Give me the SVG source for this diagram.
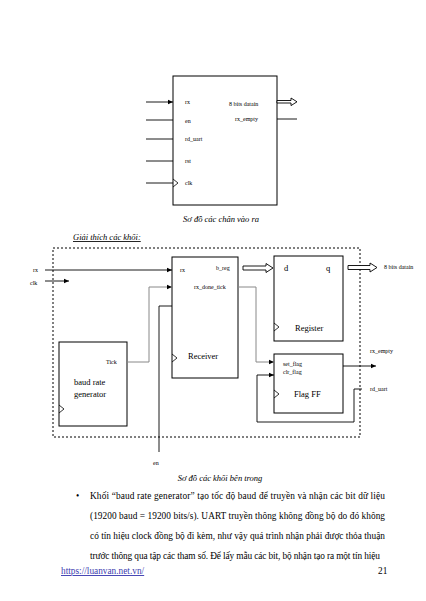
<svg xmlns="http://www.w3.org/2000/svg" width="426" height="601" viewBox="0 0 426 601" font-family="'Liberation Serif','Times New Roman',serif">
<style>
text{font-family:"Liberation Serif","Times New Roman",serif;fill:#000}
.box{fill:#fff;stroke:#000;stroke-width:1}
.ln{fill:none;stroke:#000;stroke-width:0.9}
.gl{fill:none;stroke:#888;stroke-width:1}
.clk{fill:none;stroke:#000;stroke-width:0.8}
.bus{fill:#fff;stroke:#000;stroke-width:0.9}
.s{font-size:6px}
.m{font-size:8.5px}
.cap{font-size:8.5px;font-style:italic}
.body{font-size:9.3px}
.link{fill:#3b3bb0}
</style>
<defs>
<marker id="ah" markerWidth="6" markerHeight="6" refX="5" refY="3" orient="auto" markerUnits="userSpaceOnUse">
<path d="M0,0.8 L5,3 L0,5.2 Z" fill="#000"/>
</marker>
</defs>
<rect width="426" height="601" fill="#fff"/>

<g id="top-block">
<rect class="box" x="173" y="76" width="104" height="129"/>
<text class="s" x="185" y="104">rx</text>
<text class="s" x="185" y="123">en</text>
<text class="s" x="185" y="141">rd_uart</text>
<text class="s" x="185" y="163">rst</text>
<text class="s" x="185" y="185">clk</text>
<text class="s" x="229" y="106">8 bits datain</text>
<text class="s" x="235" y="121">rx_empty</text>
<path class="clk" d="M173,179 L178,183 L173,187"/>
</g>
<g id="top-connectors">
<line class="ln" x1="146" y1="102" x2="173" y2="102" marker-end="url(#ah)"/>
<line class="ln" x1="146" y1="120" x2="173" y2="120"/>
<line class="ln" x1="146" y1="139" x2="173" y2="139"/>
<line class="ln" x1="146" y1="161" x2="173" y2="161"/>
<line class="ln" x1="146" y1="183" x2="173" y2="183"/>
<path class="bus" d="M277,100.5 L291,100.5 L291,98 L297,101.8 L291,105.6 L291,103 L277,103 Z"/>
<line class="ln" x1="277" y1="119" x2="297" y2="119" stroke="#777"/>
</g>
<text class="cap" x="221" y="222" text-anchor="middle">Sơ đồ các chân vào ra</text>
<text class="cap" x="73" y="240" text-decoration="underline">Giải thích các khối:</text>

<rect x="53" y="248" width="307" height="189" fill="none" stroke="#000" stroke-width="1" stroke-dasharray="2,2"/>

<g id="receiver">
<rect class="box" x="172" y="257" width="66" height="121"/>
<text class="s" x="180" y="272">rx</text>
<text class="s" x="216" y="270">b_reg</text>
<text class="s" x="194" y="289">rx_done_tick</text>
<text class="m" x="188" y="359">Receiver</text>
<path class="clk" d="M172,354 L177,358 L172,362"/>
</g>

<g id="register">
<rect class="box" x="274" y="256" width="69" height="85"/>
<text class="m" x="284" y="271">d</text>
<text class="m" x="326" y="271">q</text>
<text class="m" x="295" y="331">Register</text>
<path class="clk" d="M274,323 L279,327 L274,331"/>
</g>

<g id="flag-ff">
<rect class="box" x="274" y="354" width="69" height="59"/>
<text class="s" x="283" y="366">set_flag</text>
<text class="s" x="283" y="374">clr_flag</text>
<text class="m" x="294" y="397">Flag FF</text>
<path class="clk" d="M274,390 L279,394 L274,398"/>
</g>

<g id="baud-rate-generator">
<rect class="box" x="59" y="342" width="68" height="84"/>
<text class="s" x="106" y="364">Tick</text>
<text class="m" x="74" y="385">baud rate</text>
<text class="m" x="74" y="397">generator</text>
<path class="clk" d="M59,405 L64,409 L59,413"/>
</g>

<g id="labels">
<text class="s" x="33" y="272">rx</text>
<text class="s" x="30" y="285">clk</text>
<text class="s" x="153" y="465">en</text>
<text class="s" x="384" y="269">8 bits datain</text>
<text class="s" x="370" y="353">rx_empty</text>
<text class="s" x="370" y="391">rd_uart</text>
</g>

<g id="connectors">
<line class="ln" x1="45" y1="270" x2="172" y2="270" stroke="#555" marker-end="url(#ah)"/>
<line class="ln" x1="45" y1="281" x2="69" y2="281" stroke="#555" marker-end="url(#ah)"/>
<polyline class="gl" points="127,362 149,362 149,287 172,287" marker-end="url(#ah)"/>
<polyline class="ln" points="159,452 159,306 172,306"/>
<path class="bus" d="M243,266 L266,266 L266,263.5 L273,268 L266,272.5 L266,270 L243,270 Z"/>
<polyline class="gl" points="238,287 256,287 256,362 274,362" marker-end="url(#ah)"/>
<polyline class="ln" points="362,389 354,389 354,422 257,422 257,375 274,375" marker-end="url(#ah)"/>
<line class="ln" x1="343" y1="366" x2="376" y2="366" stroke="#555" marker-end="url(#ah)"/>
<path class="bus" d="M348,265.5 L370,265.5 L370,263 L377,267.5 L370,272 L370,269.5 L348,269.5 Z"/>
</g>

<text class="cap" x="220" y="481" text-anchor="middle">Sơ đồ các khối bên trong</text>

<text class="body" x="76" y="499">•</text>
<text class="body" x="90" y="499" textLength="295" lengthAdjust="spacing">Khối “baud rate generator” tạo tốc độ baud để truyền và nhận các bit dữ liệu</text>
<text class="body" x="90" y="519" textLength="295" lengthAdjust="spacing">(19200 baud = 19200 bits/s). UART truyền thông không đồng bộ do đó không</text>
<text class="body" x="90" y="539" textLength="295" lengthAdjust="spacing">có tín hiệu clock đồng bộ đi kèm, như vậy quá trình nhận phải được thỏa thuận</text>
<text class="body" x="90" y="559" textLength="290" lengthAdjust="spacing">trước thông qua tập các tham số. Để lấy mẫu các bit, bộ nhận tạo ra một tín hiệu</text>

<text class="body link" x="61" y="574" text-decoration="underline">https://luanvan.net.vn/</text>
<text class="body" x="378" y="574">21</text>
</svg>
